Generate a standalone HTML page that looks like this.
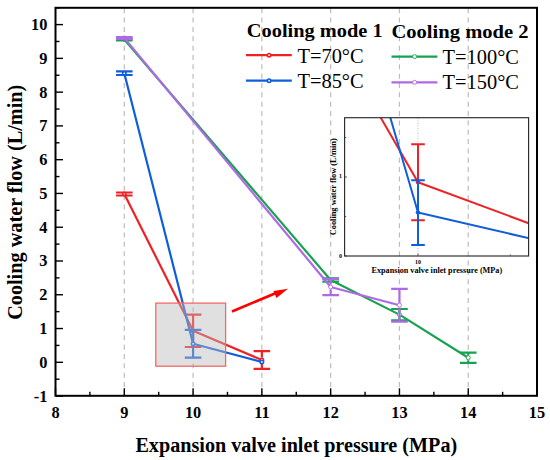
<!DOCTYPE html><html><head><meta charset="utf-8"><style>html,body{margin:0;padding:0;background:#fff;}svg{display:block;}text{font-family:"Liberation Serif",serif;}</style></head><body>
<svg width="550" height="460" viewBox="0 0 550 460">
<rect x="0" y="0" width="550" height="460" fill="#fff"/>
<line x1="124.29" y1="8.26" x2="124.29" y2="395" stroke="#bdbdbd" stroke-width="1.2" stroke-dasharray="5 4.344"/>
<line x1="193.08" y1="8.26" x2="193.08" y2="395" stroke="#bdbdbd" stroke-width="1.2" stroke-dasharray="5 4.344"/>
<line x1="261.87" y1="8.26" x2="261.87" y2="395" stroke="#bdbdbd" stroke-width="1.2" stroke-dasharray="5 4.344"/>
<line x1="330.66" y1="8.26" x2="330.66" y2="395" stroke="#bdbdbd" stroke-width="1.2" stroke-dasharray="5 4.344"/>
<line x1="399.45" y1="8.26" x2="399.45" y2="395" stroke="#bdbdbd" stroke-width="1.2" stroke-dasharray="5 4.344"/>
<line x1="468.24" y1="8.26" x2="468.24" y2="395" stroke="#bdbdbd" stroke-width="1.2" stroke-dasharray="5 4.344"/>
<path d="M124.29,193.99 L193.08,330.79 L261.87,359.95" fill="none" stroke="rgb(238,34,38)" stroke-width="2.2" stroke-linejoin="round"/><circle cx="124.29" cy="193.99" r="1.7" fill="#fff" stroke="rgb(238,34,38)" stroke-width="1.6"/><circle cx="193.08" cy="330.79" r="1.7" fill="#fff" stroke="rgb(238,34,38)" stroke-width="1.6"/><circle cx="261.87" cy="359.95" r="1.7" fill="#fff" stroke="rgb(238,34,38)" stroke-width="1.6"/><path d="M115.99,192.50 L132.59,192.50 M115.99,195.48 L132.59,195.48" fill="none" stroke="rgb(238,34,38)" stroke-width="2.2"/><path d="M184.78,314.58 L201.38,314.58 M184.78,347.00 L201.38,347.00 M193.08,314.58 L193.08,328.29 M193.08,333.29 L193.08,347.00" fill="none" stroke="rgb(238,34,38)" stroke-width="2.2"/><path d="M253.57,351.10 L270.17,351.10 M253.57,368.80 L270.17,368.80 M261.87,351.10 L261.87,357.45 M261.87,362.45 L261.87,368.80" fill="none" stroke="rgb(238,34,38)" stroke-width="2.2"/><path d="M124.29,73.20 L193.08,343.73 L261.87,361.96" fill="none" stroke="rgb(15,94,218)" stroke-width="2.2" stroke-linejoin="round"/><circle cx="124.29" cy="73.20" r="1.7" fill="#fff" stroke="rgb(15,94,218)" stroke-width="1.6"/><circle cx="193.08" cy="343.73" r="1.7" fill="#fff" stroke="rgb(15,94,218)" stroke-width="1.6"/><circle cx="261.87" cy="361.96" r="1.7" fill="#fff" stroke="rgb(15,94,218)" stroke-width="1.6"/><path d="M115.99,71.37 L132.59,71.37 M115.99,75.02 L132.59,75.02" fill="none" stroke="rgb(15,94,218)" stroke-width="2.2"/><path d="M184.78,329.88 L201.38,329.88 M184.78,357.57 L201.38,357.57 M193.08,329.88 L193.08,341.23 M193.08,346.23 L193.08,357.57" fill="none" stroke="rgb(15,94,218)" stroke-width="2.2"/><path d="M124.29,39.49 L330.66,280.00 L399.45,314.62 L468.24,357.71" fill="none" stroke="rgb(24,162,80)" stroke-width="2.2" stroke-linejoin="round"/><circle cx="124.29" cy="39.49" r="2.0" fill="#fff" stroke="rgb(24,162,80)" stroke-width="0.9"/><circle cx="330.66" cy="280.00" r="2.0" fill="#fff" stroke="rgb(24,162,80)" stroke-width="0.9"/><circle cx="399.45" cy="314.62" r="2.0" fill="#fff" stroke="rgb(24,162,80)" stroke-width="0.9"/><circle cx="468.24" cy="357.71" r="2.0" fill="#fff" stroke="rgb(24,162,80)" stroke-width="0.9"/><path d="M115.99,38.58 L132.59,38.58 M115.99,40.40 L132.59,40.40" fill="none" stroke="rgb(24,162,80)" stroke-width="2.2"/><path d="M322.36,278.42 L338.96,278.42 M322.36,281.59 L338.96,281.59" fill="none" stroke="rgb(24,162,80)" stroke-width="2.2"/><path d="M391.15,308.98 L407.75,308.98 M391.15,320.26 L407.75,320.26 M399.45,308.98 L399.45,312.17 M399.45,317.07 L399.45,320.26" fill="none" stroke="rgb(24,162,80)" stroke-width="2.2"/><path d="M459.94,352.54 L476.54,352.54 M459.94,362.87 L476.54,362.87 M468.24,352.54 L468.24,355.26 M468.24,360.16 L468.24,362.87" fill="none" stroke="rgb(24,162,80)" stroke-width="2.2"/><path d="M124.29,37.91 L330.66,286.99 L399.45,305.19" fill="none" stroke="rgb(175,105,230)" stroke-width="2.2" stroke-linejoin="round"/><circle cx="124.29" cy="37.91" r="2.0" fill="#fff" stroke="rgb(175,105,230)" stroke-width="0.9"/><circle cx="330.66" cy="286.99" r="2.0" fill="#fff" stroke="rgb(175,105,230)" stroke-width="0.9"/><circle cx="399.45" cy="305.19" r="2.0" fill="#fff" stroke="rgb(175,105,230)" stroke-width="0.9"/><path d="M115.99,36.99 L132.59,36.99 M115.99,38.82 L132.59,38.82" fill="none" stroke="rgb(175,105,230)" stroke-width="2.2"/><path d="M322.36,278.82 L338.96,278.82 M322.36,295.17 L338.96,295.17 M330.66,278.82 L330.66,284.54 M330.66,289.44 L330.66,295.17" fill="none" stroke="rgb(175,105,230)" stroke-width="2.2"/><path d="M391.15,288.85 L407.75,288.85 M391.15,321.54 L407.75,321.54 M399.45,288.85 L399.45,302.74 M399.45,307.64 L399.45,321.54" fill="none" stroke="rgb(175,105,230)" stroke-width="2.2"/>
<rect x="155.8" y="303.1" width="69.8" height="63.1" fill="rgb(188,188,188)" fill-opacity="0.46" stroke="rgb(242,105,105)" stroke-width="1.3"/>
<line x1="232" y1="311.5" x2="276" y2="293" stroke="#ff0000" stroke-width="2.6"/>
<path d="M288,288.8 L273.5,291 L276.5,298 Z" fill="#ff0000"/>
<rect x="55.5" y="7.8" width="481.5" height="388" fill="none" stroke="#000" stroke-width="2"/>
<line x1="56" y1="396.07" x2="63.00" y2="396.07" stroke="#000" stroke-width="1.4"/>
<line x1="56" y1="379.19" x2="59.50" y2="379.19" stroke="#000" stroke-width="1.4"/>
<line x1="56" y1="362.30" x2="63.00" y2="362.30" stroke="#000" stroke-width="1.4"/>
<line x1="56" y1="345.42" x2="59.50" y2="345.42" stroke="#000" stroke-width="1.4"/>
<line x1="56" y1="328.53" x2="63.00" y2="328.53" stroke="#000" stroke-width="1.4"/>
<line x1="56" y1="311.64" x2="59.50" y2="311.64" stroke="#000" stroke-width="1.4"/>
<line x1="56" y1="294.76" x2="63.00" y2="294.76" stroke="#000" stroke-width="1.4"/>
<line x1="56" y1="277.88" x2="59.50" y2="277.88" stroke="#000" stroke-width="1.4"/>
<line x1="56" y1="260.99" x2="63.00" y2="260.99" stroke="#000" stroke-width="1.4"/>
<line x1="56" y1="244.11" x2="59.50" y2="244.11" stroke="#000" stroke-width="1.4"/>
<line x1="56" y1="227.22" x2="63.00" y2="227.22" stroke="#000" stroke-width="1.4"/>
<line x1="56" y1="210.34" x2="59.50" y2="210.34" stroke="#000" stroke-width="1.4"/>
<line x1="56" y1="193.45" x2="63.00" y2="193.45" stroke="#000" stroke-width="1.4"/>
<line x1="56" y1="176.56" x2="59.50" y2="176.56" stroke="#000" stroke-width="1.4"/>
<line x1="56" y1="159.68" x2="63.00" y2="159.68" stroke="#000" stroke-width="1.4"/>
<line x1="56" y1="142.79" x2="59.50" y2="142.79" stroke="#000" stroke-width="1.4"/>
<line x1="56" y1="125.91" x2="63.00" y2="125.91" stroke="#000" stroke-width="1.4"/>
<line x1="56" y1="109.02" x2="59.50" y2="109.02" stroke="#000" stroke-width="1.4"/>
<line x1="56" y1="92.14" x2="63.00" y2="92.14" stroke="#000" stroke-width="1.4"/>
<line x1="56" y1="75.25" x2="59.50" y2="75.25" stroke="#000" stroke-width="1.4"/>
<line x1="56" y1="58.37" x2="63.00" y2="58.37" stroke="#000" stroke-width="1.4"/>
<line x1="56" y1="41.48" x2="59.50" y2="41.48" stroke="#000" stroke-width="1.4"/>
<line x1="56" y1="24.60" x2="63.00" y2="24.60" stroke="#000" stroke-width="1.4"/>
<line x1="56" y1="7.71" x2="59.50" y2="7.71" stroke="#000" stroke-width="1.4"/>
<line x1="55.50" y1="395.3" x2="55.50" y2="388.30" stroke="#000" stroke-width="1.4"/>
<line x1="89.90" y1="395.3" x2="89.90" y2="391.80" stroke="#000" stroke-width="1.4"/>
<line x1="124.29" y1="395.3" x2="124.29" y2="388.30" stroke="#000" stroke-width="1.4"/>
<line x1="158.69" y1="395.3" x2="158.69" y2="391.80" stroke="#000" stroke-width="1.4"/>
<line x1="193.08" y1="395.3" x2="193.08" y2="388.30" stroke="#000" stroke-width="1.4"/>
<line x1="227.48" y1="395.3" x2="227.48" y2="391.80" stroke="#000" stroke-width="1.4"/>
<line x1="261.87" y1="395.3" x2="261.87" y2="388.30" stroke="#000" stroke-width="1.4"/>
<line x1="296.26" y1="395.3" x2="296.26" y2="391.80" stroke="#000" stroke-width="1.4"/>
<line x1="330.66" y1="395.3" x2="330.66" y2="388.30" stroke="#000" stroke-width="1.4"/>
<line x1="365.06" y1="395.3" x2="365.06" y2="391.80" stroke="#000" stroke-width="1.4"/>
<line x1="399.45" y1="395.3" x2="399.45" y2="388.30" stroke="#000" stroke-width="1.4"/>
<line x1="433.85" y1="395.3" x2="433.85" y2="391.80" stroke="#000" stroke-width="1.4"/>
<line x1="468.24" y1="395.3" x2="468.24" y2="388.30" stroke="#000" stroke-width="1.4"/>
<line x1="502.64" y1="395.3" x2="502.64" y2="391.80" stroke="#000" stroke-width="1.4"/>
<line x1="537.03" y1="395.3" x2="537.03" y2="388.30" stroke="#000" stroke-width="1.4"/>
<text transform="translate(47.30,401.57) scale(0.96,1)" font-size="17" font-weight="bold" text-anchor="end">-1</text>
<text transform="translate(47.30,367.80) scale(0.96,1)" font-size="17" font-weight="bold" text-anchor="end">0</text>
<text transform="translate(47.30,334.03) scale(0.96,1)" font-size="17" font-weight="bold" text-anchor="end">1</text>
<text transform="translate(47.30,300.26) scale(0.96,1)" font-size="17" font-weight="bold" text-anchor="end">2</text>
<text transform="translate(47.30,266.49) scale(0.96,1)" font-size="17" font-weight="bold" text-anchor="end">3</text>
<text transform="translate(47.30,232.72) scale(0.96,1)" font-size="17" font-weight="bold" text-anchor="end">4</text>
<text transform="translate(47.30,198.95) scale(0.96,1)" font-size="17" font-weight="bold" text-anchor="end">5</text>
<text transform="translate(47.30,165.18) scale(0.96,1)" font-size="17" font-weight="bold" text-anchor="end">6</text>
<text transform="translate(47.30,131.41) scale(0.96,1)" font-size="17" font-weight="bold" text-anchor="end">7</text>
<text transform="translate(47.30,97.64) scale(0.96,1)" font-size="17" font-weight="bold" text-anchor="end">8</text>
<text transform="translate(47.30,63.87) scale(0.96,1)" font-size="17" font-weight="bold" text-anchor="end">9</text>
<text transform="translate(47.30,30.10) scale(0.96,1)" font-size="17" font-weight="bold" text-anchor="end">10</text>
<text transform="translate(55.50,417.80) scale(0.96,1)" font-size="17" font-weight="bold" text-anchor="middle">8</text>
<text transform="translate(124.29,417.80) scale(0.96,1)" font-size="17" font-weight="bold" text-anchor="middle">9</text>
<text transform="translate(193.08,417.80) scale(0.96,1)" font-size="17" font-weight="bold" text-anchor="middle">10</text>
<text transform="translate(261.87,417.80) scale(0.96,1)" font-size="17" font-weight="bold" text-anchor="middle">11</text>
<text transform="translate(330.66,417.80) scale(0.96,1)" font-size="17" font-weight="bold" text-anchor="middle">12</text>
<text transform="translate(399.45,417.80) scale(0.96,1)" font-size="17" font-weight="bold" text-anchor="middle">13</text>
<text transform="translate(468.24,417.80) scale(0.96,1)" font-size="17" font-weight="bold" text-anchor="middle">14</text>
<text transform="translate(537.03,417.80) scale(0.96,1)" font-size="17" font-weight="bold" text-anchor="middle">15</text>
<text transform="translate(296.30,451.50) scale(1.008,1)" font-size="20" font-weight="bold" text-anchor="middle">Expansion valve inlet pressure (MPa)</text>
<text transform="translate(22.00,202.25) rotate(-90) scale(1.013,1.06)" font-size="20" font-weight="bold" text-anchor="middle">Cooling water flow (L/min)</text>
<text transform="translate(246.80,36.80) scale(1.03,1)" font-size="19.8" font-weight="bold" text-anchor="start">Cooling mode 1</text>
<text transform="translate(391.40,38.30) scale(1.04,1)" font-size="19.8" font-weight="bold" text-anchor="start">Cooling mode 2</text>
<line x1="246" y1="55.2" x2="291.8" y2="55.2" stroke="rgb(238,34,38)" stroke-width="2.2"/>
<circle cx="269.10" cy="55.2" r="1.7" fill="#fff" stroke="rgb(238,34,38)" stroke-width="1.6"/>
<text transform="translate(297.50,62.60) scale(1.02,1)" font-size="20" text-anchor="start">T=70°C</text>
<line x1="246" y1="80.7" x2="291.8" y2="80.7" stroke="rgb(15,94,218)" stroke-width="2.2"/>
<circle cx="269.10" cy="80.7" r="1.7" fill="#fff" stroke="rgb(15,94,218)" stroke-width="1.6"/>
<text transform="translate(297.50,87.80) scale(1.02,1)" font-size="20" text-anchor="start">T=85°C</text>
<line x1="391.5" y1="56.6" x2="437.4" y2="56.6" stroke="rgb(24,162,80)" stroke-width="2.2"/>
<circle cx="414.65" cy="56.6" r="2.0" fill="#fff" stroke="rgb(24,162,80)" stroke-width="0.9"/>
<text transform="translate(442.60,63.70) scale(1.02,1)" font-size="20" text-anchor="start">T=100°C</text>
<line x1="391.5" y1="82.3" x2="437.4" y2="82.3" stroke="rgb(175,105,230)" stroke-width="2.2"/>
<circle cx="414.65" cy="82.3" r="2.0" fill="#fff" stroke="rgb(175,105,230)" stroke-width="0.9"/>
<text transform="translate(442.60,88.90) scale(1.02,1)" font-size="20" text-anchor="start">T=150°C</text>
<defs><clipPath id="ic"><rect x="344.6" y="117.7" width="184" height="138.3"/></clipPath></defs>
<line x1="418" y1="118" x2="418" y2="256" stroke="#aaa" stroke-width="0.8" stroke-dasharray="1 1.5"/>
<g clip-path="url(#ic)"><path d="M233.50,-137.74 L418.00,182.29 L602.50,250.50" fill="none" stroke="rgb(238,34,38)" stroke-width="2" stroke-linejoin="round"/><path d="M233.50,-420.32 L418.00,212.55 L602.50,255.21" fill="none" stroke="rgb(15,94,218)" stroke-width="2" stroke-linejoin="round"/><path d="M418.00,144.37 L418.00,220.21 M411.20,144.37 L424.80,144.37 M411.20,220.21 L424.80,220.21" fill="none" stroke="rgb(238,34,38)" stroke-width="2"/><circle cx="418.00" cy="182.29" r="1.8" fill="rgb(238,34,38)" stroke="rgb(238,34,38)" stroke-width="1"/><path d="M418.00,180.16 L418.00,244.94 M411.20,180.16 L424.80,180.16 M411.20,244.94 L424.80,244.94" fill="none" stroke="rgb(15,94,218)" stroke-width="2"/><circle cx="418.00" cy="212.55" r="1.8" fill="rgb(15,94,218)" stroke="rgb(15,94,218)" stroke-width="1"/></g>
<rect x="344.6" y="117.7" width="184" height="138.3" fill="none" stroke="#2a2a2a" stroke-width="1.15"/>
<line x1="345" y1="256.00" x2="347.00" y2="256.00" stroke="#333" stroke-width="0.8"/>
<line x1="345" y1="216.50" x2="346.20" y2="216.50" stroke="#333" stroke-width="0.8"/>
<line x1="345" y1="177.00" x2="347.00" y2="177.00" stroke="#333" stroke-width="0.8"/>
<line x1="345" y1="137.50" x2="346.20" y2="137.50" stroke="#333" stroke-width="0.8"/>
<line x1="418.00" y1="255.6" x2="418.00" y2="253.60" stroke="#333" stroke-width="0.8"/>
<line x1="510.25" y1="255.6" x2="510.25" y2="254.40" stroke="#333" stroke-width="0.8"/>
<text transform="translate(342.00,178.20)" font-size="6" font-weight="bold" text-anchor="end">1</text>
<text transform="translate(342.00,257.50)" font-size="6" font-weight="bold" text-anchor="end">0</text>
<text transform="translate(418.00,263.80)" font-size="6" font-weight="bold" text-anchor="middle">10</text>
<text transform="translate(436.80,273.30)" font-size="8.2" font-weight="bold" text-anchor="middle">Expansion valve inlet pressure (MPa)</text>
<text transform="translate(336.00,186.80) rotate(-90) scale(1.02,1)" font-size="8.2" font-weight="bold" text-anchor="middle">Cooling water flow (L/min)</text>
</svg></body></html>
